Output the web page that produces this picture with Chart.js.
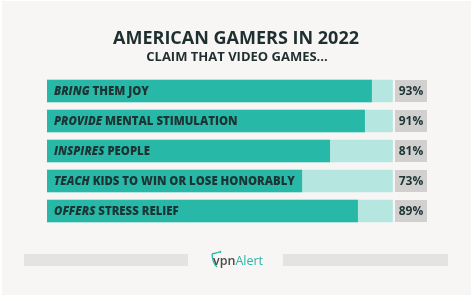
<!DOCTYPE html>
<html>
<head>
<meta charset="utf-8">
<script src="https://cdn.jsdelivr.net/npm/chart.js@4"></script>
<style>
  html, body { margin: 0; padding: 0; background: #ffffff; }
  #wrap { width: 474px; height: 301px; }
</style>
</head>
<body>
<div id="wrap"><canvas id="chart" width="474" height="301"></canvas></div>
<script>
// ─── Data ───
const leadWords = ['BRING', 'PROVIDE', 'INSPIRES', 'TEACH', 'OFFERS'];
const restWords = ['THEM JOY', 'MENTAL STIMULATION', 'PEOPLE', 'KIDS TO WIN OR LOSE HONORABLY', 'STRESS RELIEF'];
const shares = [93, 91, 81, 73, 89];
const trackValues = [99, 99, 99, 99, 99];

const TEAL = '#27b8a7';
const TRACK = '#b5e6e0';
const INK = '#1d3434';
const FONT = "'Open Sans', sans-serif";

Chart.defaults.font.family = FONT;

// background card, titles, footer
const decor = {
    id: 'decor',
    beforeDraw: (chart) => {
        const { ctx } = chart;
        ctx.save();
        ctx.fillStyle = '#ffffff';
        ctx.fillRect(0, 0, 474, 301);
        ctx.fillStyle = '#f7f6f4';
        ctx.fillRect(2, 1, 469, 294);
        ctx.restore();
    },
    afterDraw: (chart) => {
        const { ctx } = chart;
        const x = chart.scales.x;
        const y = chart.scales.y;
        ctx.save();

        // titles
        ctx.textAlign = 'center';
        ctx.textBaseline = 'alphabetic';
        ctx.fillStyle = '#1f2e2e';
        ctx.font = `bold 18px ${FONT}`;
        ctx.fillText('AMERICAN GAMERS IN 2022', 236, 44);
        ctx.font = `bold 13px ${FONT}`;
        ctx.fillText('CLAIM THAT VIDEO GAMES...', 237, 61);

        // labels inside bars + percent boxes
        leadWords.forEach((lead, i) => {
            const cy = y.getPixelForValue(i);
            ctx.textAlign = 'left';
            ctx.textBaseline = 'middle';
            ctx.fillStyle = INK;
            ctx.font = `italic 800 11.4px ${FONT}`;
            const lx = x.left + 7;
            ctx.fillText(lead, lx, cy + 1);
            const w = ctx.measureText(lead + ' ').width;
            ctx.font = `800 11.4px ${FONT}`;
            ctx.fillText(restWords[i], lx + w, cy + 1);

            ctx.fillStyle = '#d1d0cf';
            ctx.fillRect(395, cy - 11, 32, 22);
            ctx.fillStyle = INK;
            ctx.textAlign = 'center';
            ctx.font = `bold 12px ${FONT}`;
            ctx.fillText(shares[i] + '%', 411, cy + 1);
        });

        // footer
        ctx.fillStyle = '#e4e3e2';
        ctx.fillRect(24, 254, 164, 12);
        ctx.fillRect(283, 254, 165, 12);

        // shield mark
        ctx.strokeStyle = TEAL;
        ctx.lineWidth = 1.3;
        ctx.beginPath();
        ctx.moveTo(212, 254);
        ctx.quadraticCurveTo(216.5, 253, 220.5, 251.5);
        ctx.lineTo(220.5, 253);
        ctx.stroke();
        ctx.beginPath();
        ctx.moveTo(212, 254);
        ctx.quadraticCurveTo(212.5, 263, 217, 267);
        ctx.stroke();

        ctx.textAlign = 'left';
        ctx.textBaseline = 'alphabetic';
        ctx.font = `600 12.5px ${FONT}`;
        ctx.fillStyle = '#4b4b4b';
        ctx.fillText('vpn', 213, 265);
        const vw = ctx.measureText('vpn').width;
        ctx.fillStyle = TEAL;
        ctx.font = `500 12.5px ${FONT}`;
        ctx.fillText('Alert', 213 + vw, 265);

        ctx.restore();
    },
};

new Chart(document.getElementById('chart'), {
    type: 'bar',
    data: {
        labels: leadWords.map((w, i) => w + ' ' + restWords[i]),
        datasets: [
            {
                label: 'Share',
                data: shares,
                backgroundColor: TEAL,
                barThickness: 22,
                grouped: false,
                order: 1,
            },
            {
                label: 'Track',
                data: trackValues,
                backgroundColor: TRACK,
                barThickness: 22,
                grouped: false,
                order: 2,
            },
        ],
    },
    options: {
        indexAxis: 'y',
        responsive: false,
        animation: false,
        layout: { padding: { left: 47, right: 78, top: 76, bottom: 75 } },
        plugins: {
            legend: { display: false },
            tooltip: { enabled: false },
        },
        scales: {
            x: { display: false, min: 0, max: 100 },
            y: { display: false },
        },
    },
    plugins: [decor],
});
</script>
</body>
</html>
